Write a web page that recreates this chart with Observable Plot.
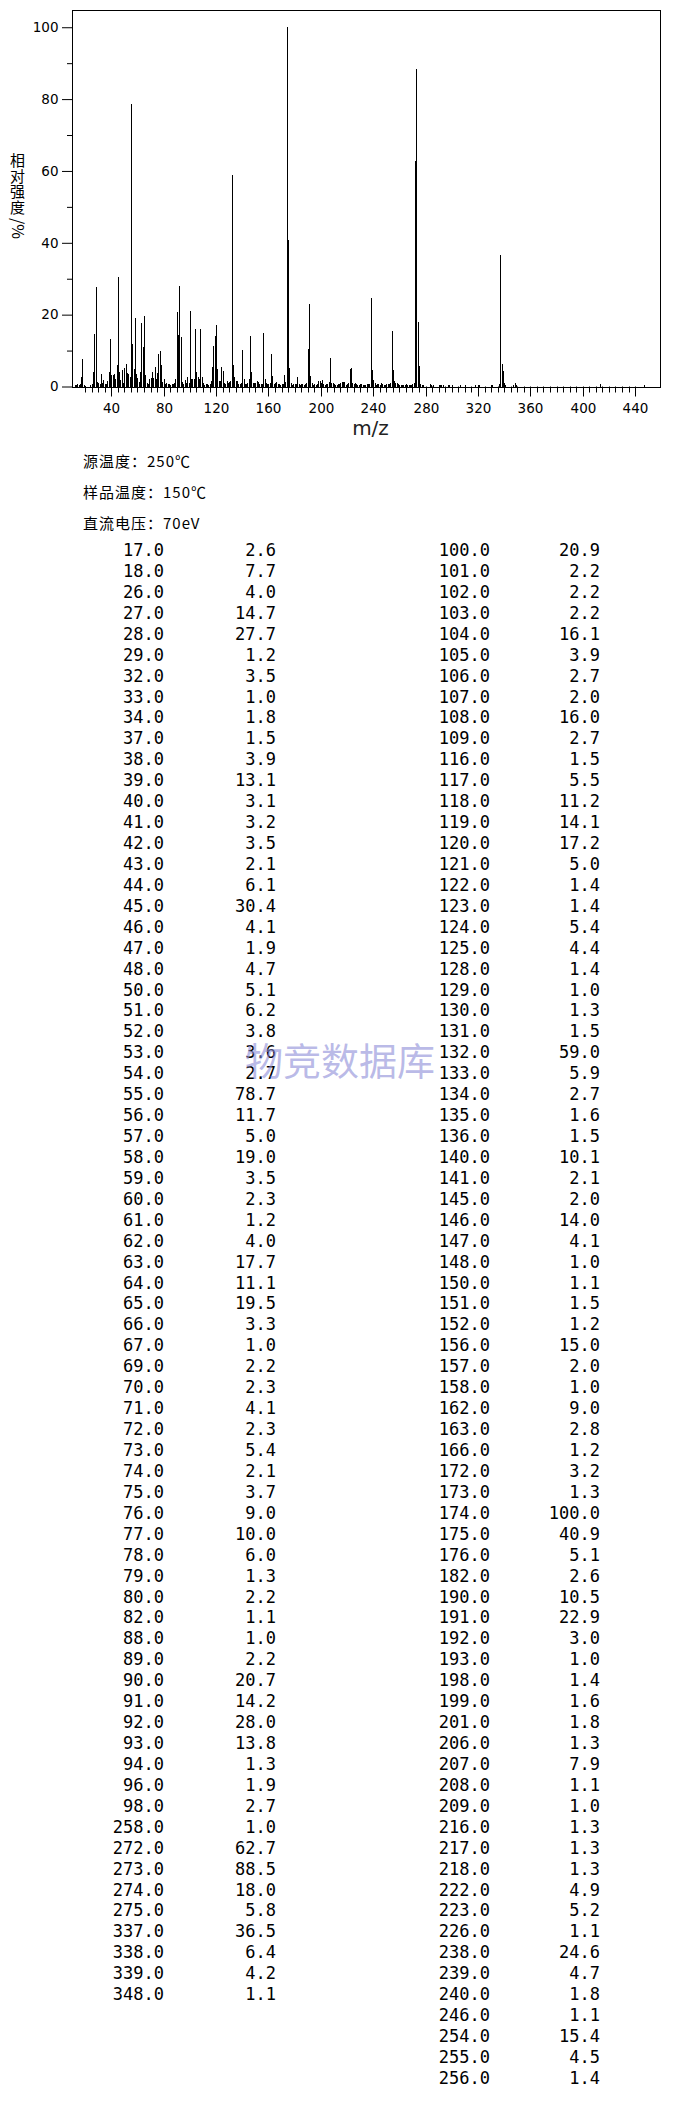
<!DOCTYPE html>
<html><head><meta charset="utf-8">
<script src="https://cdn.jsdelivr.net/npm/d3@7"></script>
<script src="https://cdn.jsdelivr.net/npm/@observablehq/plot@0.6"></script>
<style>
html,body{margin:0;padding:0;background:#fff;}
#page{position:relative;width:680px;height:2126px;overflow:hidden;background:#fff;}
#chart{position:absolute;left:0;top:0;}
#chart svg{display:block;}
.info{position:absolute;left:83px;font-family:"Noto Sans CJK SC";font-size:15px;letter-spacing:1px;line-height:20px;color:#000;white-space:pre;}
.row{position:absolute;left:0;width:680px;height:20px;line-height:20px;font-family:"DejaVu Sans Mono";font-size:17px;color:#000;}
.cell{position:absolute;top:0;width:100px;text-align:right;white-space:pre;}
.wm{position:absolute;left:245px;top:1040px;font-family:"Noto Sans CJK SC";font-size:38px;line-height:38px;color:rgba(140,140,215,0.6);white-space:pre;z-index:5;}
</style>
</head><body>
<div id="page">
  <div id="chart"></div>
</div>
<script>
// ---- table data: left column ----
const leftMz  = [17,18,26,27,28,29,32,33,34,37,38,39,40,41,42,43,44,45,46,47,48,50,51,52,53,54,55,56,57,58,59,60,61,62,63,64,65,66,67,69,70,71,72,73,74,75,76,77,78,79,80,82,88,89,90,91,92,93,94,96,98,258,272,273,274,275,337,338,339,348];
const leftRel = [2.6,7.7,4.0,14.7,27.7,1.2,3.5,1.0,1.8,1.5,3.9,13.1,3.1,3.2,3.5,2.1,6.1,30.4,4.1,1.9,4.7,5.1,6.2,3.8,3.6,2.7,78.7,11.7,5.0,19.0,3.5,2.3,1.2,4.0,17.7,11.1,19.5,3.3,1.0,2.2,2.3,4.1,2.3,5.4,2.1,3.7,9.0,10.0,6.0,1.3,2.2,1.1,1.0,2.2,20.7,14.2,28.0,13.8,1.3,1.9,2.7,1.0,62.7,88.5,18.0,5.8,36.5,6.4,4.2,1.1];
// ---- table data: right column ----
const rightMz  = [100,101,102,103,104,105,106,107,108,109,116,117,118,119,120,121,122,123,124,125,128,129,130,131,132,133,134,135,136,140,141,145,146,147,148,150,151,152,156,157,158,162,163,166,172,173,174,175,176,182,190,191,192,193,198,199,201,206,207,208,209,216,217,218,222,223,226,238,239,240,246,254,255,256];
const rightRel = [20.9,2.2,2.2,2.2,16.1,3.9,2.7,2.0,16.0,2.7,1.5,5.5,11.2,14.1,17.2,5.0,1.4,1.4,5.4,4.4,1.4,1.0,1.3,1.5,59.0,5.9,2.7,1.6,1.5,10.1,2.1,2.0,14.0,4.1,1.0,1.1,1.5,1.2,15.0,2.0,1.0,9.0,2.8,1.2,3.2,1.3,100.0,40.9,5.1,2.6,10.5,22.9,3.0,1.0,1.4,1.6,1.8,1.3,7.9,1.1,1.0,1.3,1.3,1.3,4.9,5.2,1.1,24.6,4.7,1.8,1.1,15.4,4.5,1.4];
// ---- small peaks (<1%) seen in the spectrum only (estimated) ----
const minorMz  = [12,13,14,15,16,19,20,24,25,30,31,35,36,49,68,81,83,84,85,86,87,95,97,99,110,111,112,113,114,115,126,127,137,138,139,142,143,144,149,153,154,155,159,160,161,164,165,167,168,169,170,171,177,178,179,180,181,183,184,185,186,187,188,189,194,195,196,197,200,202,203,204,205,210,211,212,213,214,215,219,220,221,224,225,227,228,229,230,231,232,233,234,235,236,237,241,242,243,244,245,247,248,249,250,251,252,253,257,259,260,261,262,263,264,265,266,267,268,269,270,271,276,277,278,283,284,286,290,291,292,293,297,298,300,306,310,318,320,321,330,331,336,340,341,347,349,413,447];
const minorRel = [0.5,0.4,0.6,0.5,0.8,0.3,0.2,0.5,0.6,0.9,0.7,0.6,0.8,0.9,0.8,0.7,0.6,0.7,0.5,0.6,0.8,0.8,0.9,0.9,0.9,0.5,0.6,0.7,0.5,0.8,0.9,0.8,0.7,0.8,0.9,0.8,0.6,0.9,0.9,0.7,0.8,0.6,0.6,0.7,0.9,0.8,0.9,0.6,0.7,0.5,0.6,0.8,0.9,0.5,0.6,0.7,0.8,0.6,0.5,0.7,0.8,0.5,0.6,0.9,0.5,0.6,0.4,0.8,0.9,0.7,0.5,0.6,0.8,0.6,0.5,0.4,0.6,0.7,0.9,0.5,0.6,0.9,0.9,0.6,0.6,0.5,0.4,0.6,0.7,0.5,0.4,0.5,0.6,0.7,0.8,0.9,0.5,0.6,0.8,0.5,0.6,0.4,0.5,0.6,0.7,0.6,0.9,0.9,0.6,0.5,0.4,0.3,0.5,0.4,0.6,0.5,0.4,0.3,0.5,0.6,0.9,0.8,0.4,0.3,0.6,0.4,0.3,0.5,0.4,0.5,0.3,0.4,0.5,0.4,0.4,0.3,0.4,0.5,0.3,0.4,0.5,0.7,0.9,0.4,0.5,0.3,0.6,0.4];
// ---- axis ticks / texts ----
const yMajorTicks = [0,20,40,60,80,100];
const yMinorTicks = [10,30,50,70,90];
const xMajorTicks = [40,80,120,160,200,240,280,320,360,400,440];
const xMinorTicks = [20,25,30,35,45,50,55,60,65,70,75,85,90,95,100,105,110,115,125,130,135,140,145,150,155,165,170,175,180,185,190,195,205,210,215,220,225,230,235,245,250,255,260,265,270,275,285,290,295,300,305,310,315,325,330,335,340,345,350,355,365,370,375,380,385,390,395,405,410,415,420,425,430,435];
const xLabel = "m/z";
const yLabel = "相对强度/%";
const infoLines = ["源温度：250℃", "样品温度：150℃", "直流电压：70eV"];
const watermark = "物竞数据库";

const peaks = [
  ...leftMz.map((m, i) => ({mz: m, rel: leftRel[i]})),
  ...rightMz.map((m, i) => ({mz: m, rel: rightRel[i]})),
  ...minorMz.map((m, i) => ({mz: m, rel: minorRel[i]}))
];

const chart = Plot.plot({
  width: 680,
  height: 445,
  marginLeft: 72,
  marginRight: 20,
  marginTop: 10,
  marginBottom: 58.5,
  style: {fontFamily: "DejaVu Sans", fontSize: "13.5px", color: "#000", background: "#fff"},
  x: {domain: [10, 459], round: true},
  y: {domain: [0, 104.8]},
  marks: [
    Plot.ruleX(peaks, {x: "mz", y1: 0, y2: "rel", stroke: "#000", strokeWidth: 1, shapeRendering: "crispEdges"}),
    Plot.frame({stroke: "#000", shapeRendering: "crispEdges"}),
    Plot.axisY({ticks: yMajorTicks, tickSize: 10, tickPadding: 4, label: null}),
    Plot.axisY({ticks: yMinorTicks, tickSize: 5, tickFormat: () => "", label: null}),
    Plot.axisX({ticks: xMajorTicks, tickSize: 10, tickPadding: 6, label: null}),
    Plot.axisX({ticks: xMinorTicks, tickSize: 6, tickFormat: () => "", label: null}),
    Plot.text([xLabel], {frameAnchor: "bottom", dx: 4, dy: 47.5, fontSize: 20, fill: "#222"})
  ]
});

// vertical y-axis label: CJK characters stacked upright, Latin run turned 90°
const groups = [];
for (const ch of Array.from(yLabel)) {
  const cjk = /[\u3400-\u9fff]/.test(ch);
  const last = groups[groups.length - 1];
  if (!cjk && last && !last.cjk) last.text += ch;
  else groups.push({cjk, text: ch});
}
const yl = d3.select(chart).append("g")
  .attr("fill", "#000")
  .attr("font-family", "'Noto Sans CJK SC'")
  .attr("font-size", 15)
  .attr("text-anchor", "middle");
let cy = 153;
groups.forEach(g => {
  if (g.cjk) {
    yl.append("text")
      .attr("x", 17.5)
      .attr("y", cy + 7.75)
      .attr("dy", "0.36em")
      .text(g.text);
    cy += 15.6;
  } else {
    const len = 24;
    yl.append("text")
      .attr("transform", `translate(17.5,${cy + 1 + len / 2}) rotate(90)`)
      .attr("dy", "0.36em")
      .attr("font-size", 16)
      .text(g.text);
    cy += len;
  }
});

document.getElementById("chart").appendChild(chart);

const page = document.getElementById("page");

infoLines.forEach((t, i) => {
  const d = document.createElement("div");
  d.className = "info";
  d.style.top = (451 + i * 31.2) + "px";
  d.textContent = t;
  page.appendChild(d);
});

const rowStep = 20.93;
function addColumn(mzArr, relArr, mzRight, relRight) {
  mzArr.forEach((m, i) => {
    const r = document.createElement("div");
    r.className = "row";
    r.style.top = (550 + i * rowStep - 10) + "px";
    const c1 = document.createElement("div");
    c1.className = "cell";
    c1.style.left = (mzRight - 100) + "px";
    c1.textContent = m.toFixed(1);
    const c2 = document.createElement("div");
    c2.className = "cell";
    c2.style.left = (relRight - 100) + "px";
    c2.textContent = relArr[i].toFixed(1);
    r.appendChild(c1); r.appendChild(c2);
    page.appendChild(r);
  });
}
addColumn(leftMz, leftRel, 164, 276);
addColumn(rightMz, rightRel, 490, 600);

const wm = document.createElement("div");
wm.className = "wm";
wm.textContent = watermark;
page.appendChild(wm);
</script>
</body></html>
